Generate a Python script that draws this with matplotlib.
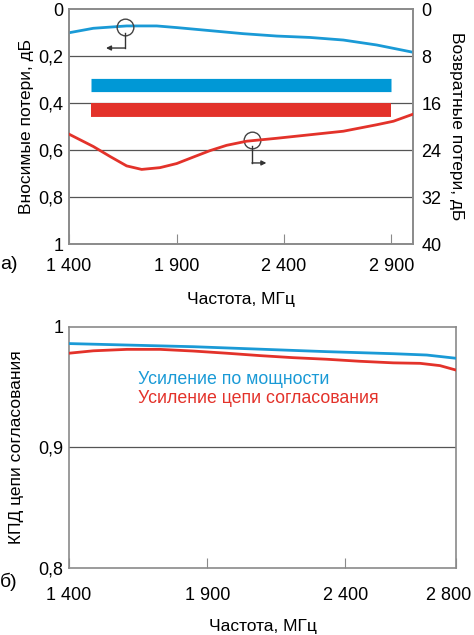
import matplotlib
matplotlib.use("Agg")
import matplotlib.pyplot as plt
from matplotlib.transforms import ScaledTranslation

plt.rcParams['font.family'] = ['Liberation Sans', 'DejaVu Sans']

# ---- Panel a) data ----
freq_il = [1400, 1513, 1668, 1808, 1901, 2056, 2211, 2366, 2521, 2676, 2831, 3000]
insertion_loss = [0.101, 0.082, 0.072, 0.072, 0.079, 0.092, 0.105, 0.115, 0.121, 0.132, 0.153, 0.184]

freq_rl = [1400, 1513, 1591, 1668, 1738, 1823, 1901, 1978, 2056, 2133, 2226, 2366,
           2521, 2676, 2831, 2909, 3000]
return_loss = [21.3, 23.4, 25.1, 26.7, 27.3, 27.0, 26.3, 25.2, 24.1, 23.2, 22.5, 22.0,
               21.4, 20.8, 19.7, 19.1, 17.9]

bar_range = [1500, 2900]
blue_bar_level = 0.322
red_bar_level = 0.43

xticks_a = [1400, 1900, 2400, 2900]
xticklabels_a = ["1 400", "1 900", "2 400", "2 900"]
yticks_left = [0, 0.2, 0.4, 0.6, 0.8, 1.0]
yticklabels_left = ["0", "0,2", "0,4", "0,6", "0,8", "1"]
yticks_right = [0, 8, 16, 24, 32, 40]

# ---- Panel б) data ----
freq_pg = [1400, 1850, 2332, 2573, 2694, 2800]
power_gain = [0.986, 0.9834, 0.9793, 0.9776, 0.9765, 0.9738]
freq_mg = [1400, 1488, 1610, 1729, 1850, 1970, 2091, 2211, 2332, 2453, 2573, 2670, 2742, 2800]
match_gain = [0.978, 0.980, 0.9812, 0.9812, 0.9798, 0.978, 0.976, 0.9743, 0.973, 0.9713,
              0.970, 0.9696, 0.9677, 0.964]

xticks_b = [1400, 1900, 2400, 2800]
xticklabels_b = ["1 400", "1 900", "2 400", "2 800"]
yticks_b = [0.8, 0.9, 1.0]
yticklabels_b = ["0,8", "0,9", "1"]

BLUE = "#1a9ad6"
RED = "#e3322a"
GRID = "#555555"
SPINE = "#8a8a8a"
FS = 13

fig = plt.figure(figsize=(4.74, 6.35), dpi=100)

# ===== Panel a =====
ax = fig.add_axes([0.1456, 0.6157, 0.7257, 0.3701])
ax.set_xlim(1400, 3000)
ax.set_ylim(1.0, 0.0)
for y in [0.2, 0.4, 0.6, 0.8]:
    ax.axhline(y, color=GRID, lw=0.9, zorder=1)
ax.plot(freq_il, insertion_loss, color=BLUE, lw=2, zorder=3, solid_joinstyle='round')
ax.hlines([blue_bar_level], bar_range[0], bar_range[1], color="#0098d6", lw=9.5, zorder=3)
ax.hlines([red_bar_level], bar_range[0], bar_range[1], color=RED, lw=10, zorder=3)

ax2 = ax.twinx()
ax2.set_ylim(40, 0)
ax2.plot(freq_rl, return_loss, color=RED, lw=2, zorder=3, solid_joinstyle='round')

# annotations (circle + bent arrow)
ax.plot([1660], [0.075], marker='o', ms=12, mfc='none', mec='#444444', mew=1, zorder=4)
ax.plot([1660, 1660], [0.102, 0.166], color='#333333', lw=1, zorder=4)
ax.annotate('', xy=(1572, 0.166), xytext=(1660, 0.166),
            arrowprops=dict(arrowstyle='-|>', color='#333333', lw=1, mutation_scale=7,
                            shrinkA=0, shrinkB=0), zorder=4)
ax.plot([2251], [0.557], marker='o', ms=12, mfc='none', mec='#444444', mew=1, zorder=4)
ax.plot([2251, 2251], [0.584, 0.655], color='#333333', lw=1, zorder=4)
ax.annotate('', xy=(2318, 0.655), xytext=(2251, 0.655),
            arrowprops=dict(arrowstyle='-|>', color='#333333', lw=1, mutation_scale=7,
                            shrinkA=0, shrinkB=0), zorder=4)

ax.set_xticks(xticks_a)
ax.set_xticklabels(xticklabels_a, fontsize=FS)
ax.set_yticks(yticks_left)
ax.set_yticklabels(yticklabels_left, fontsize=FS)
ax2.set_yticks(yticks_right)
ax2.set_yticklabels([str(v) for v in yticks_right], fontsize=FS)
ax.tick_params(axis='x', direction='in', length=7, color=SPINE, pad=10)
ax.tick_params(axis='y', length=0, pad=4)
ax2.tick_params(axis='y', length=0, pad=6)
for a in (ax, ax2):
    for s in a.spines.values():
        s.set_color(SPINE)
        s.set_linewidth(1.2)
ax.set_xlabel("Частота, МГц", fontsize=12.5, labelpad=12)
ax.set_ylabel("Вносимые потери, дБ", fontsize=12.5, labelpad=3)
ax2.set_ylabel("Возвратные потери, дБ", fontsize=12.5, rotation=270, labelpad=16)
fig.text(0.0, 0.583, "а)", fontsize=14, ha='left', va='center')

# ===== Panel b =====
bx = fig.add_axes([0.1456, 0.1060, 0.8165, 0.3795])
bx.set_xlim(1400, 2800)
bx.set_ylim(0.8, 1.0)
bx.axhline(0.9, color=GRID, lw=0.9, zorder=1)
bx.plot(freq_pg, power_gain, color=BLUE, lw=2, zorder=3, solid_joinstyle='round')
bx.plot(freq_mg, match_gain, color=RED, lw=2, zorder=3, solid_joinstyle='round')
bx.text(0.178, 0.783, "Усиление по мощности", color=BLUE, fontsize=12.8,
        transform=bx.transAxes, va='center')
bx.text(0.178, 0.704, "Усиление цепи согласования", color=RED, fontsize=12.8,
        transform=bx.transAxes, va='center')
bx.set_xticks(xticks_b)
bx.set_xticklabels(xticklabels_b, fontsize=FS)
bx.set_yticks(yticks_b)
bx.set_yticklabels(yticklabels_b, fontsize=FS)
bx.tick_params(axis='x', direction='in', length=7, color=SPINE, pad=14)
bx.tick_params(axis='y', length=0, pad=4)
last_lbl = bx.xaxis.get_major_ticks()[-1].label1
last_lbl.set_transform(last_lbl.get_transform()
                       + ScaledTranslation(-7 / 100, 0, fig.dpi_scale_trans))
for s in bx.spines.values():
    s.set_color(SPINE)
    s.set_linewidth(1.2)
bx.set_xlabel("Частота, МГц", fontsize=12.5, labelpad=11)
bx.set_ylabel("КПД цепи согласования", fontsize=12.5, labelpad=10)
fig.text(0.0, 0.083, "б)", fontsize=14, ha='left', va='center')

fig.savefig("out.png", dpi=100)
